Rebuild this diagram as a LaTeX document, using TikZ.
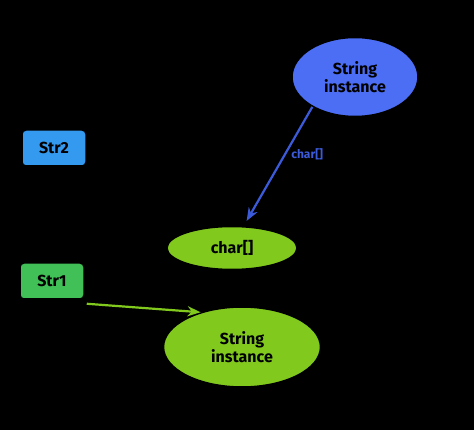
\documentclass[tikz,border=0pt]{standalone}
\usepackage{fontspec}
\setmainfont{Fira Sans}
\usepackage{xcolor}
\usepackage{tikz}
\usetikzlibrary{shapes,arrows,positioning,arrows.meta}
\definecolor{instblue}{HTML}{4C6EF5}
\definecolor{refblue}{HTML}{339AF0}
\definecolor{refgreen}{HTML}{40C057}
\definecolor{instgreen}{HTML}{82C91E}
\definecolor{arrowblue}{HTML}{3B5BDB}

\begin{document}
\begin{tikzpicture}[x=1pt, y=-1pt, font=\fontsize{16}{18}\selectfont\bfseries,
    inst/.style={draw=black, line width=1.5pt, ellipse, align=center, inner sep=0pt},
    strref/.style={draw=black, line width=1.5pt, rounded corners=4pt, minimum width=64pt, minimum height=36pt}]
    \fill[black] (0,0) rectangle (474,430);
    \useasboundingbox (0,0) rectangle (474,430);

    \node [inst, fill=instblue, minimum width=126pt, minimum height=79pt] (S2I) at (355,77) {String\\instance};
    \node [inst, fill=instgreen, minimum width=130pt, minimum height=43pt] (CA) at (232,248) {char[]};
    \node [inst, fill=instgreen, minimum width=157pt, minimum height=80pt] (S1I) at (242,347) {String\\instance};
    \node [strref, fill=refblue] (S2) at (54,148) {Str2};
    \node [strref, fill=refgreen] (S1) at (52,281) {Str1};

    \draw [arrowblue, line width=2.2pt, -{Stealth[length=13pt,width=10pt]}, shorten >=6pt]
        (S2I.215) -- node [pos=0.4, right, xshift=2pt, text=arrowblue, font=\fontsize{12}{14}\selectfont\bfseries] {char[]} (CA.62);
    \draw [instgreen, line width=2.2pt, -{Stealth[length=13pt,width=10pt]}]
        ([xshift=2pt, yshift=-4pt]S1.south east) -- (S1I.140); % reference to its instance
\end{tikzpicture}
\end{document}
